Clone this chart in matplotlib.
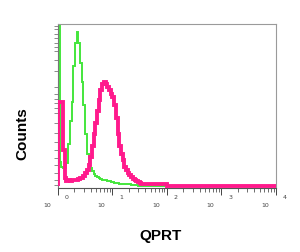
import numpy as np
import matplotlib
matplotlib.use("Agg")
import matplotlib.pyplot as plt
from matplotlib.ticker import LogLocator, NullFormatter, FixedLocator

# histogram channels: 32 bins per decade over 10^0 .. 10^4
edges = np.logspace(0, 4, 129)

isotype = [99, 15, 12, 11, 11, 14, 26, 40, 52, 74, 88, 95, 88, 76, 64, 50,
           32, 20, 14, 11, 9, 7.5, 6.5, 5.5, 5, 4.5, 4, 3.5, 3.5, 3, 3, 2.5,
           2.5, 2, 2, 2, 1.5, 1.5, 1.5, 1.5, 1, 1, 1, 0.5, 0.5, 0.5, 0.5, 0,
           0, 0, 0, 0, 0, 0, 0, 0, 0, 0, 0, 0, 0, 0, 0, 0,
           0, 0, 0, 0, 0, 0, 0, 0, 0, 0, 0, 0, 0, 0, 0, 0,
           0, 0, 0, 0, 0, 0, 0, 0, 0, 0, 0, 0, 0, 0, 0, 0,
           0, 0, 0, 0, 0, 0, 0, 0, 0, 0, 0, 0, 0, 0, 0, 0,
           0, 0, 0, 0, 0, 0, 0, 0, 0, 0, 0, 0, 0, 0, 0, 0]
qprt = [52, 52, 52, 22, 5, 3, 3.5, 3, 3.5, 3.5, 4, 4, 4.5, 5, 5, 6,
        8, 10, 13, 18, 25, 32, 39, 46, 53, 59, 63, 64, 63, 61, 59, 57,
        55, 50, 42, 32, 25, 20, 16, 12, 10, 8, 7, 5.5, 4.5, 3.5, 3, 2.5,
        2, 1.2, 1.2, 1.2, 1.2, 1.2, 1.2, 1.2, 1.2, 1.2, 1.2, 1.2, 1.2, 1.2, 1.2, 1.2,
        0, 0, 0, 0, 0, 0, 0, 0, 0, 0, 0, 0, 0, 0, 0, 0,
        0, 0, 0, 0, 0, 0, 0, 0, 0, 0, 0, 0, 0, 0, 0, 0,
        0, 0, 0, 0, 0, 0, 0, 0, 0, 0, 0, 0, 0, 0, 0, 0,
        0, 0, 0, 0, 0, 0, 0, 0, 0, 0, 0, 0, 0, 0, 0, 0]

y_ticks = [99, 97, 94, 91.5, 88, 86, 83, 78, 71, 61, 57, 54, 51, 48, 45,
           39, 33, 27, 22, 17, 13, 8, 4, 0.5]
decades = [0, 1, 2, 3, 4]

fig = plt.figure(figsize=(3.0, 2.52), dpi=100)
ax = fig.add_axes([0.193, 0.254, 0.727, 0.651])

ax.stairs(isotype, edges, color="#44e63c", linewidth=1.4, zorder=2)
ax.stairs(qprt, edges, color="#ff1a8c", linewidth=2.8, zorder=3)

ax.set_xscale("log")
ax.set_xlim(1, 1e4)
ax.set_ylim(-1.2, 100)

for s in ax.spines.values():
    s.set_color("#9a9a9a")
    s.set_linewidth(0.8)
ax.spines["bottom"].set_color("#555555")
ax.spines["left"].set_color("#777777")

ax.xaxis.set_major_locator(LogLocator(base=10, numticks=10))
ax.xaxis.set_minor_locator(LogLocator(base=10, subs=np.arange(2, 10), numticks=10))
ax.xaxis.set_major_formatter(NullFormatter())
ax.xaxis.set_minor_formatter(NullFormatter())
ax.tick_params(axis="x", which="major", length=5, width=0.7, color="#444444")
ax.tick_params(axis="x", which="minor", length=3, width=0.6, color="#555555")

ax.yaxis.set_major_locator(FixedLocator(y_ticks))
ax.yaxis.set_major_formatter(NullFormatter())
ax.tick_params(axis="y", which="major", length=3, width=0.6, color="#777777")

# flow-style split tick labels: "10" below, exponent raised to the right
for d in decades:
    ax.annotate("10", xy=(10 ** d, 0), xycoords=("data", "axes fraction"),
                xytext=(-8, -12.5), textcoords="offset points", fontsize=4.5,
                color="#444444", ha="center", va="center")
    ax.annotate(str(d), xy=(10 ** d, 0), xycoords=("data", "axes fraction"),
                xytext=(6.5, -6.5), textcoords="offset points", fontsize=4.5,
                color="#444444", ha="center", va="center")

fig.text(0.073, 0.47, "Counts", rotation=90, fontsize=11, fontweight="bold",
         ha="center", va="center", family="Liberation Sans")
fig.text(0.535, 0.065, "QPRT", fontsize=11, fontweight="bold",
         ha="center", va="center", family="Liberation Sans")

fig.savefig("out.png", dpi=100)
